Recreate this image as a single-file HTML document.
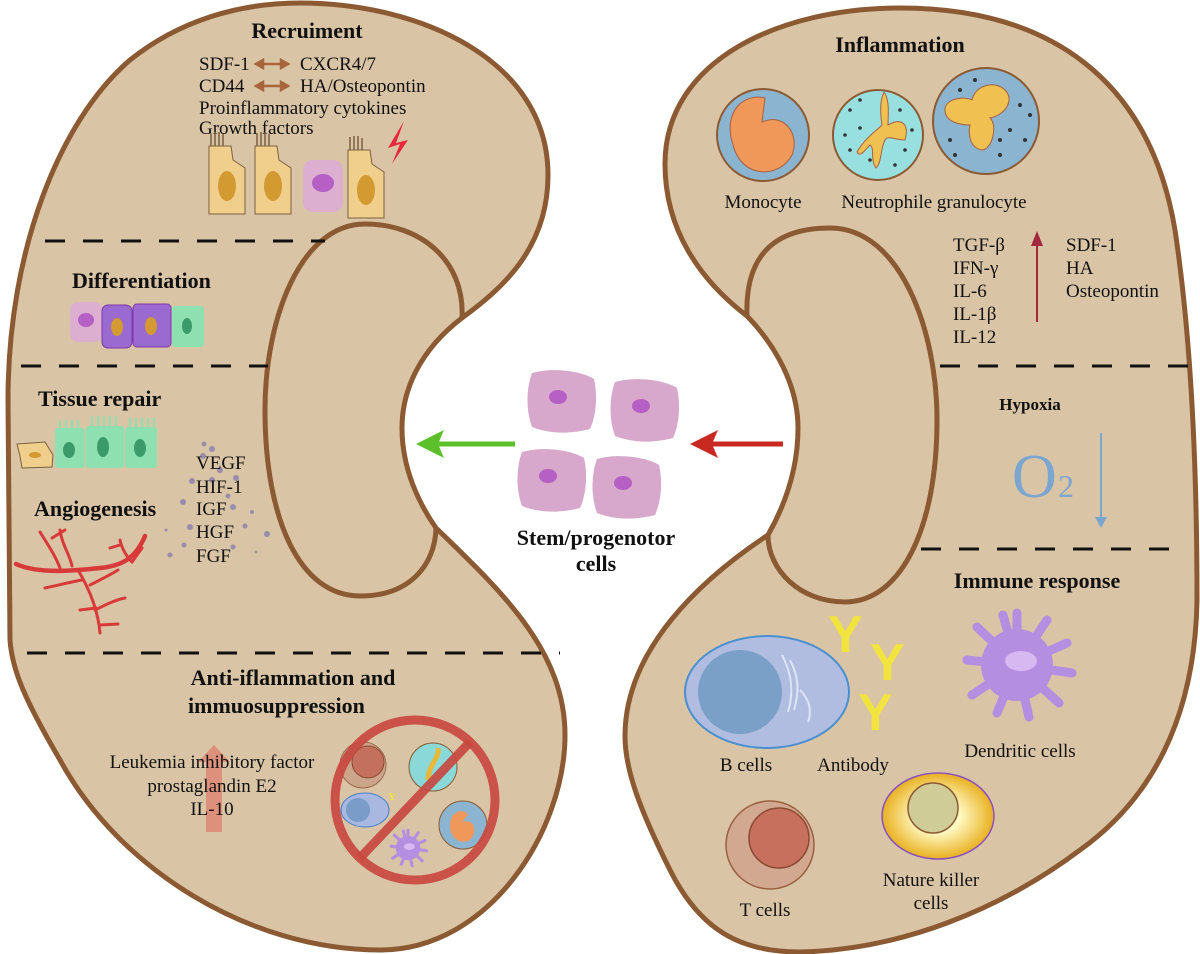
<!DOCTYPE html>
<html><head><meta charset="utf-8"><style>
html,body{margin:0;padding:0;background:#fff;}
svg{display:block;}
text{font-family:"Liberation Serif",serif;fill:#111;}
.b{font-weight:bold;font-size:22px;}
.t{font-size:19px;}
</style></head><body>
<svg width="1200" height="954" viewBox="0 0 1200 954" xmlns="http://www.w3.org/2000/svg">
<defs>
<g id="dc">
 <g stroke="#b48ee0" stroke-width="9" stroke-linecap="round">
  <line x1="0" y1="0" x2="0" y2="-52"/><line x1="0" y1="0" x2="30" y2="-45"/><line x1="0" y1="0" x2="50" y2="-22"/>
  <line x1="0" y1="0" x2="55" y2="8"/><line x1="0" y1="0" x2="42" y2="38"/><line x1="0" y1="0" x2="12" y2="52"/>
  <line x1="0" y1="0" x2="-20" y2="48"/><line x1="0" y1="0" x2="-45" y2="30"/><line x1="0" y1="0" x2="-50" y2="-5"/>
  <line x1="0" y1="0" x2="-40" y2="-38"/><line x1="0" y1="0" x2="-14" y2="-50"/>
 </g>
 <circle r="36" fill="#b48ee0"/>
 <ellipse cx="4" cy="-4" rx="16" ry="10" fill="#d8b8f0"/>
</g>
<g id="stem">
 <path d="M-30,-28 C-10,-34 20,-30 32,-22 C36,-5 34,15 28,28 C5,34 -15,32 -30,26 C-36,10 -36,-12 -30,-28 Z" fill="#d8a8cc"/>
 <ellipse cx="-4" cy="-4" rx="9" ry="7" fill="#b65fc4"/>
</g>
<g id="ecell">
 <path d="M-18,-30 L-18,-45 M-14,-30 L-14,-46 M-10,-30 L-10,-46 M-6,-30 L-6,-44" stroke="#7a6040" stroke-width="1.5"/>
 <path d="M-20,-32 L2,-32 L4,-18 L16,-10 L16,36 L-20,36 Z" fill="#f0cf8c" stroke="#7a6040" stroke-width="1"/>
 <ellipse cx="-2" cy="8" rx="9" ry="15" fill="#d49a32"/>
</g>
</defs>

<path d="M300,3 C420,3 548,60 548,175 C548,250 500,290 462,318 C420,350 402,390 402,428 C402,470 420,505 436,528 C500,590 565,650 565,735 C565,830 490,950 380,950 C250,950 120,870 60,760 C25,700 12,670 10,640 L8,400 C8,250 60,120 130,60 C180,20 240,3 300,3 Z" fill="#d9c4a6" stroke="#8b5a32" stroke-width="5"/>
<path d="M462,318 C465,260 420,224 365,224 C300,224 265,320 265,410 C265,520 300,596 360,596 C410,596 435,565 436,528" fill="none" stroke="#8b5a32" stroke-width="5"/>

<path d="M900,8 C1050,8 1150,80 1175,230 C1190,330 1197,450 1197,600 C1195,720 1150,800 1080,850 C1000,910 900,950 800,952 C740,952 700,930 670,870 C640,810 625,770 625,736 C625,650 700,580 768,535 C785,505 798,470 798,428 C798,385 775,345 747,316 C700,280 665,230 665,164 C665,60 780,8 900,8 Z" fill="#d9c4a6" stroke="#8b5a32" stroke-width="5"/>
<path d="M747,316 C745,260 770,228 830,228 C900,228 937,330 937,420 C937,530 900,602 845,602 C800,602 768,570 768,535" fill="none" stroke="#8b5a32" stroke-width="5"/>

<g stroke="#111" stroke-width="3" stroke-dasharray="20 18">
<line x1="45" y1="241" x2="325" y2="241"/>
<line x1="21" y1="366" x2="268" y2="366"/>
<line x1="27" y1="653" x2="560" y2="653"/>
<line x1="940" y1="366" x2="1190" y2="366"/>
<line x1="921" y1="549" x2="1175" y2="549"/>
</g>

<text class="b" x="307" y="38" text-anchor="middle">Recruiment</text>
<text class="t" x="199" y="70">SDF-1</text><text class="t" x="300" y="70">CXCR4/7</text>
<text class="t" x="199" y="92">CD44</text><text class="t" x="300" y="92">HA/Osteopontin</text>
<text class="t" x="199" y="114">Proinflammatory cytokines</text>
<text class="t" x="199" y="134">Growth factors</text>
<g stroke="#a8643a" stroke-width="2.5" fill="#a8643a">
<line x1="260" y1="64" x2="284" y2="64"/><path d="M256,64 l7,-4 v8z M288,64 l-7,-4 v8z"/>
<line x1="260" y1="86" x2="284" y2="86"/><path d="M256,86 l7,-4 v8z M288,86 l-7,-4 v8z"/>
</g>
<path d="M404,121 L388,148 L400,144 L392,164 L408,140 L396,143 Z" fill="#e8283c"/>
<use href="#ecell" x="229" y="178"/>
<use href="#ecell" x="275" y="178"/>
<rect x="303" y="160" width="40" height="52" rx="10" fill="#dcaed0"/>
<ellipse cx="323" cy="183" rx="11" ry="9" fill="#b65fc4"/>
<use href="#ecell" x="368" y="182"/>

<text class="b" x="72" y="288">Differentiation</text>
<rect x="70" y="302" width="32" height="40" rx="8" fill="#dcaed0"/><ellipse cx="86" cy="320" rx="8" ry="7" fill="#b65fc4"/>
<rect x="102" y="305" width="30" height="43" rx="6" fill="#9a6ad0" stroke="#7a3aa8"/><ellipse cx="117" cy="327" rx="6" ry="9" fill="#d49a32"/>
<rect x="133" y="304" width="38" height="43" rx="4" fill="#9a6ad0" stroke="#7a3aa8"/><ellipse cx="151" cy="326" rx="6" ry="9" fill="#d49a32"/>
<rect x="172" y="306" width="32" height="41" rx="3" fill="#8fe0b0"/><ellipse cx="187" cy="326" rx="5" ry="8" fill="#3a9a6a"/>

<text class="b" x="38" y="406">Tissue repair</text>
<path d="M17,444 L45,442 L53,455 L52,467 L22,468 L20,456 Z" fill="#f0cf8c" stroke="#7a6040"/>
<ellipse cx="35" cy="455" rx="6" ry="3" fill="#d49a32"/>
<rect x="55" y="428" width="30" height="40" rx="3" fill="#8fe0b0"/><ellipse cx="69" cy="450" rx="6" ry="8" fill="#3a9a6a"/>
<rect x="86" y="426" width="38" height="42" rx="3" fill="#8fe0b0"/><ellipse cx="103" cy="447" rx="6" ry="10" fill="#3a9a6a"/>
<rect x="125" y="427" width="32" height="41" rx="3" fill="#8fe0b0"/><ellipse cx="140" cy="448" rx="6" ry="9" fill="#3a9a6a"/>
<g stroke="#8fe0b0" stroke-width="2"><path d="M60,428v-8M66,428v-8M72,428v-8M78,428v-8M92,426v-10M98,426v-10M104,426v-10M110,426v-10M116,426v-10M130,427v-9M136,427v-9M142,427v-9M148,427v-9M154,427v-9"/></g>

<text class="b" x="34" y="516">Angiogenesis</text>
<g stroke="#d83a3a" stroke-width="3" fill="none" stroke-linecap="round">
<path d="M16,564 C40,575 80,570 100,568 C120,566 135,560 145,536" stroke-width="4.5"/>
<path d="M78,570 C90,590 98,610 100,633"/>
<path d="M40,532 C48,545 55,555 60,568"/><path d="M60,530 C62,545 70,555 72,566"/>
<path d="M52,538 L65,530"/><path d="M120,540 C122,550 128,558 132,562"/>
<path d="M110,548 L120,545"/><path d="M45,588 C60,585 70,582 82,580"/>
<path d="M90,585 C100,580 110,575 118,570"/><path d="M95,610 C105,605 115,600 125,598"/>
<path d="M80,610 L96,608"/><path d="M100,625 L118,624"/><path d="M132,562 L142,548"/>
</g>
<g fill="#8a80b0" opacity="0.8">
<circle cx="204" cy="444" r="2.5"/><circle cx="212" cy="449" r="3"/><circle cx="203" cy="456" r="3"/><circle cx="220" cy="470" r="3"/>
<circle cx="192" cy="481" r="3"/><circle cx="212" cy="480" r="3"/><circle cx="236" cy="478" r="3"/><circle cx="228" cy="496" r="2.5"/>
<circle cx="183" cy="502" r="3"/><circle cx="233" cy="507" r="3"/><circle cx="252" cy="512" r="2"/><circle cx="190" cy="527" r="3"/>
<circle cx="245" cy="526" r="2.5"/><circle cx="267" cy="534" r="3"/><circle cx="184" cy="545" r="2.5"/><circle cx="233" cy="547" r="2.5"/>
<circle cx="170" cy="555" r="2.5"/><circle cx="256" cy="552" r="1.5"/><circle cx="166" cy="530" r="1.5"/>
</g>
<text class="t" x="196" y="469">VEGF</text>
<text class="t" x="196" y="493">HIF-1</text>
<text class="t" x="196" y="515">IGF</text>
<text class="t" x="196" y="538">HGF</text>
<text class="t" x="196" y="562">FGF</text>

<text class="b" x="293" y="685" text-anchor="middle">Anti-iflammation and</text>
<text class="b" x="188" y="713">immuosuppression</text>
<path d="M206,832 L206,762 L198,762 L214,745 L230,762 L222,762 L222,832 Z" fill="#e07060" opacity="0.6"/>
<text x="212" y="768" text-anchor="middle" font-size="19">Leukemia inhibitory factor</text>
<text x="212" y="792" text-anchor="middle" font-size="19">prostaglandin E2</text>
<text x="212" y="815" text-anchor="middle" font-size="19">IL-10</text>
<circle cx="363" cy="765" r="23" fill="#cca48a" stroke="#9a6a50"/><circle cx="368" cy="762" r="16" fill="#c4705e" stroke="#8b4a32"/>
<circle cx="433" cy="767" r="24" fill="#8ad8d8" stroke="#8b5a32"/><path d="M428,780 C428,765 440,758 438,748" stroke="#e8b83a" stroke-width="5" fill="none"/>
<ellipse cx="365" cy="810" rx="24" ry="17" fill="#a8b8e0" stroke="#4a80c8"/><circle cx="358" cy="810" r="12" fill="#7a9cc8"/>
<circle cx="463" cy="825" r="24" fill="#8ab4d0" stroke="#8b5a32"/><path d="M450,825 C450,810 465,808 468,815 L462,822 C475,818 478,832 470,840 C460,845 450,838 450,825 Z" fill="#f0985a"/>
<use href="#dc" transform="translate(408,848) scale(0.34)"/>
<text x="388" y="800" font-size="11" style="fill:#f2e43e;font-weight:bold">Y</text>
<circle cx="415" cy="800" r="80" fill="none" stroke="#c8463e" stroke-width="9" opacity="0.9"/>
<line x1="470" y1="742" x2="360" y2="858" stroke="#c8463e" stroke-width="9" opacity="0.9"/>

<use href="#stem" x="562" y="401"/>
<use href="#stem" x="645" y="410"/>
<use href="#stem" x="552" y="480"/>
<use href="#stem" x="627" y="487"/>
<text x="596" y="545" text-anchor="middle" style="font-weight:bold;font-size:22px">Stem/progenotor</text>
<text x="596" y="571" text-anchor="middle" style="font-weight:bold;font-size:22px">cells</text>
<line x1="515" y1="444" x2="432" y2="444" stroke="#5cc02a" stroke-width="5"/>
<path d="M416,444 L444,430 L438,444 L444,458 Z" fill="#5cc02a"/>
<line x1="783" y1="444" x2="706" y2="444" stroke="#c82a22" stroke-width="5"/>
<path d="M690,444 L718,430 L712,444 L718,458 Z" fill="#c82a22"/>

<text class="b" x="900" y="52" text-anchor="middle">Inflammation</text>
<circle cx="763" cy="135" r="46" fill="#8ab4d0" stroke="#8b5a32" stroke-width="2"/>
<path d="M733,145 C722,110 745,93 765,98 L762,122 C785,112 800,135 792,155 C780,178 742,180 733,145 Z" fill="#f0985a" stroke="#a86040"/>
<circle cx="878" cy="135" r="45" fill="#98e0e0" stroke="#8b5a32" stroke-width="2"/>
<path d="M857,152 C865,138 875,132 882,125 C880,112 880,100 884,92 C890,100 888,115 888,125 C900,118 910,122 905,140 C895,140 888,135 885,140 C880,150 882,162 876,168 C870,160 875,148 870,145 C865,150 860,158 857,152 Z" fill="#f0c050" stroke="#a86040"/>
<circle cx="986" cy="121" r="53" fill="#8ab4d0" stroke="#8b5a32" stroke-width="2"/>
<path d="M945,110 C945,98 965,96 972,100 C975,85 995,80 1005,90 C1015,100 1005,115 990,118 C998,125 992,150 982,150 C970,148 968,135 970,125 C960,125 945,122 945,110 Z" fill="#f0c050" stroke="#a86040"/>
<g fill="#333"><circle cx="850" cy="110" r="1.8"/><circle cx="860" cy="128" r="1.8"/><circle cx="900" cy="110" r="1.8"/><circle cx="905" cy="150" r="1.8"/><circle cx="850" cy="150" r="1.8"/><circle cx="870" cy="160" r="1.8"/><circle cx="895" cy="165" r="1.8"/><circle cx="860" cy="100" r="1.8"/><circle cx="912" cy="130" r="1.8"/><circle cx="845" cy="135" r="1.8"/>
<circle cx="950" cy="140" r="2"/><circle cx="960" cy="90" r="2"/><circle cx="1010" cy="130" r="2"/><circle cx="1020" cy="105" r="2"/><circle cx="1000" cy="155" r="2"/><circle cx="955" cy="155" r="2"/><circle cx="1025" cy="140" r="2"/><circle cx="975" cy="80" r="2"/><circle cx="1030" cy="115" r="2"/><circle cx="1000" cy="140" r="2"/></g>
<text class="t" x="763" y="208" text-anchor="middle">Monocyte</text>
<text class="t" x="934" y="208" text-anchor="middle">Neutrophile granulocyte</text>
<text class="t" x="953" y="251">TGF-β</text>
<text class="t" x="953" y="274">IFN-γ</text>
<text class="t" x="953" y="297">IL-6</text>
<text class="t" x="953" y="320">IL-1β</text>
<text class="t" x="953" y="343">IL-12</text>
<line x1="1037" y1="322" x2="1037" y2="240" stroke="#a02840" stroke-width="2"/>
<path d="M1037,231 L1031,246 L1043,246 Z" fill="#a02840"/>
<text class="t" x="1066" y="251">SDF-1</text>
<text class="t" x="1066" y="274">HA</text>
<text class="t" x="1066" y="297">Osteopontin</text>

<text x="1030" y="410" text-anchor="middle" style="font-weight:bold;font-size:17px">Hypoxia</text>
<text x="1012" y="497" style="fill:#7aa6d0;font-size:62px">O</text>
<text x="1058" y="497" style="fill:#7aa6d0;font-size:32px">2</text>
<line x1="1101" y1="433" x2="1101" y2="520" stroke="#7aa6d0" stroke-width="2"/>
<path d="M1101,528 L1095,517 L1107,517 Z" fill="#7aa6d0"/>

<text class="b" x="1037" y="588" text-anchor="middle">Immune response</text>
<ellipse cx="767" cy="692" rx="82" ry="56" fill="#b0bce0" stroke="#4a90d0" stroke-width="2"/>
<circle cx="740" cy="692" r="42" fill="#7aa0c8"/>
<g stroke="#dde4f4" stroke-width="2" fill="none"><path d="M782,655 C790,670 795,690 788,712 M790,660 C798,675 800,690 794,710 M800,690 C810,700 812,712 808,722"/></g>
<text x="828" y="652" style="fill:#f2e43e;font-size:52px;font-weight:bold;font-family:'Liberation Sans',sans-serif">Y</text>
<text x="870" y="680" style="fill:#f2e43e;font-size:52px;font-weight:bold;font-family:'Liberation Sans',sans-serif">Y</text>
<text x="858" y="730" style="fill:#f2e43e;font-size:52px;font-weight:bold;font-family:'Liberation Sans',sans-serif">Y</text>
<use href="#dc" x="1017" y="665"/>
<text class="t" x="746" y="771" text-anchor="middle">B cells</text>
<text class="t" x="853" y="771" text-anchor="middle">Antibody</text>
<text class="t" x="1020" y="757" text-anchor="middle">Dendritic cells</text>
<circle cx="770" cy="845" r="44" fill="#d2a890" stroke="#9a6040" stroke-width="1.5"/>
<circle cx="779" cy="838" r="30" fill="#c8705e" stroke="#8b4a32" stroke-width="1.5"/>
<defs><radialGradient id="nk"><stop offset="0.4" stop-color="#fff8c0"/><stop offset="1" stop-color="#e8b020"/></radialGradient></defs>
<ellipse cx="938" cy="816" rx="56" ry="43" fill="url(#nk)" stroke="#8a50c0" stroke-width="1.5"/>
<circle cx="933" cy="808" r="25" fill="#d0cc98" stroke="#8b5a32" stroke-width="1.5"/>
<text class="t" x="765" y="916" text-anchor="middle">T cells</text>
<text class="t" x="931" y="886" text-anchor="middle">Nature killer</text>
<text class="t" x="931" y="909" text-anchor="middle">cells</text>
</svg>
</body></html>
